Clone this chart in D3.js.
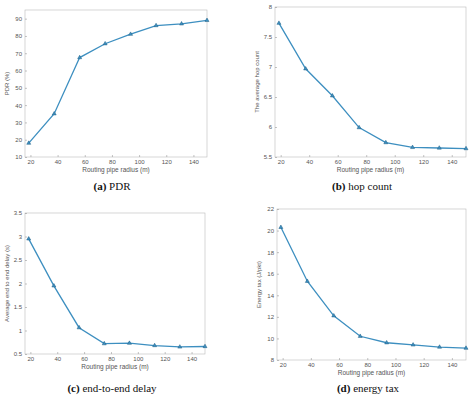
<!DOCTYPE html><html><head><meta charset="utf-8">
<script src="https://cdn.jsdelivr.net/npm/d3@7"></script>
<style>body{margin:0;background:#fff}</style></head><body>
<svg id="c" width="474" height="401"></svg>
<script>
const radius=[18.75,37.5,56.25,75,93.75,112.5,131.25,150];
const pdr=[18,35,67.5,75.5,81,86,87,89];
const hop=[7.73,6.97,6.52,5.99,5.74,5.66,5.65,5.64];
const delay=[2.95,1.95,1.06,0.72,0.73,0.68,0.65,0.66];
const energy=[20.3,15.3,12.1,10.2,9.6,9.4,9.2,9.1];
const xTicks=[20,40,60,80,100,120,140];
const panels=[
 {v:pdr,box:[25,10,207,157],dom:[10,95],ticks:[10,20,30,40,50,60,70,80,90],yl:"PDR (%)",cap:["(a)"," PDR"],cx:112,cy:190},
 {v:hop,box:[275,7,466,157],dom:[5.5,8],ticks:[5.5,6,6.5,7,7.5,8],yl:"The average hop count",cap:["(b)"," hop count"],cx:362,cy:190},
 {v:delay,box:[25,213,205,354],dom:[0.5,3.5],ticks:[0.5,1,1.5,2,2.5,3,3.5],yl:"Average end to end delay (s)",cap:["(c)"," end-to-end delay"],cx:112,cy:392},
 {v:energy,box:[277,209,466,360],dom:[8,22],ticks:[8,10,12,14,16,18,20,22],yl:"Energy tax (J/pkt)",cap:["(d)"," energy tax"],cx:368,cy:392}
];
const svg=d3.select("#c");
panels.forEach(p=>{
 const [x0,y0,x1,y1]=p.box;
 const x=d3.scaleLinear().domain([16,150]).range([x0,x1]);
 const y=d3.scaleLinear().domain(p.dom).range([y1,y0]);
 const g=svg.append("g").style("font-family","Liberation Sans, Arial").attr("fill","#555");
 g.append("rect").attr("x",x0).attr("y",y0).attr("width",x1-x0).attr("height",y1-y0).attr("fill","none").attr("stroke","#bbb").attr("stroke-width",0.6);
 const ax=g.append("g").attr("transform",`translate(0,${y1})`).call(d3.axisBottom(x).tickValues(xTicks).tickSize(-2).tickPadding(3));
 const ay=g.append("g").attr("transform",`translate(${x0},0)`).call(d3.axisLeft(y).tickValues(p.ticks).tickSize(-2).tickPadding(3).tickFormat(d3.format("~g")));
 [ax,ay].forEach(a=>{a.select(".domain").remove();a.selectAll("line").attr("stroke","#888").attr("stroke-width",0.5);a.selectAll("text").attr("fill","#555").style("font-size","6px");});
 g.append("text").attr("x",(x0+x1)/2).attr("y",y1+15).attr("text-anchor","middle").text("Routing pipe radius (m)").style("font-size","6.5px");
 g.append("text").attr("transform",`translate(${x0-16},${(y0+y1)/2}) rotate(-90)`).attr("text-anchor","middle").text(p.yl).style("font-size","6px");
 const pts=radius.map((r,i)=>[x(r),y(p.v[i])]);
 g.append("path").attr("d",d3.line()(pts)).attr("fill","none").attr("stroke","#3d8fc0").attr("stroke-width",1.3);
 g.selectAll(".m").data(pts).enter().append("path").attr("transform",d=>`translate(${d[0]},${d[1]})`)
  .attr("d",d3.symbol(d3.symbolTriangle,7)).attr("fill","#3d8fc0").attr("stroke","#1f5f85").attr("stroke-width",0.5);
 const t=svg.append("text").attr("x",p.cx).attr("y",p.cy).attr("text-anchor","middle").style("font-family","Liberation Serif, Times New Roman").style("font-size","11px").attr("fill","#111");
 t.append("tspan").style("font-weight","bold").text(p.cap[0]);
 t.append("tspan").text(p.cap[1]);
});
</script></body></html>
